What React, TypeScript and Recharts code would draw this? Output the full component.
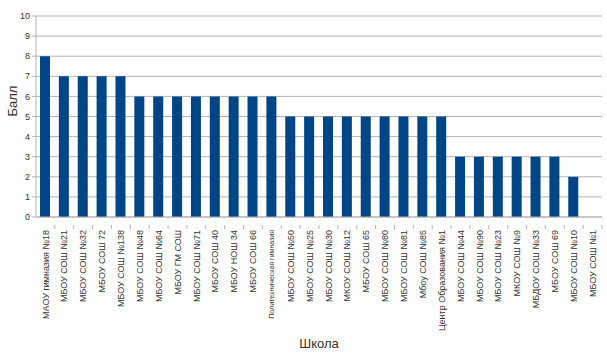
import React from 'react';
import { BarChart, Bar, XAxis, YAxis, CartesianGrid } from 'recharts';

const schools: string[] = [
  'МАОУ гимназия №18', 'МБОУ СОШ №21', 'МБОУ СОШ №32', 'МБОУ СОШ 72', 'МБОУ СОШ №138',
  'МБОУ СОШ №48', 'МБОУ СОШ №64', 'МБОУ ГМ СОШ', 'МБОУ СОШ №71', 'МБОУ СОШ 40',
  'МБОУ НОШ 34', 'МБОУ СОШ 66', 'Политехническая гимназия', 'МБОУ СОШ №50', 'МБОУ СОШ №25',
  'МБОУ СОШ №30', 'МКОУ СОШ №12', 'МБОУ СОШ 65', 'МБОУ СОШ №80', 'МБОУ СОШ №81',
  'Мбоу СОШ №85', 'Центр Образования №1', 'МБОУ СОШ №44', 'МБОУ СОШ №90', 'МБОУ СОШ №23',
  'МКОУ СОШ №9', 'МБДОУ СОШ №33', 'МБОУ СОШ 69', 'МБОУ СОШ №10', 'МБОУ СОШ №1',
];
const scores: number[] = [
  8, 7, 7, 7, 7,
  6, 6, 6, 6, 6,
  6, 6, 6, 5, 5,
  5, 5, 5, 5, 5,
  5, 5, 3, 3, 3,
  3, 3, 3, 2, 0,
];
const yTicks: number[] = [0, 1, 2, 3, 4, 5, 6, 7, 8, 9, 10];

const data = schools.map((name, i) => ({ name, score: scores[i] }));

const W = 607;
const H = 357;
const M = { top: 16, right: 5, left: 0, bottom: 0 };
const Y_W = 36;
const X_H = 140;
const BAND = (W - M.left - M.right - Y_W) / schools.length;
const FONT = '"Liberation Sans", Arial, sans-serif';
const GRID = '#b3b3b3';
const TEXT = '#333333';

const XTick = (props: any) => {
  const { x, y, payload } = props;
  const label: string = payload.value;
  const small = label.startsWith('Политех');
  return (
    <g>
      <line x1={x + BAND / 2} y1={y} x2={x + BAND / 2} y2={y + 4} stroke={GRID} />
      <text
        x={x}
        y={y + 5}
        transform={`rotate(-90, ${x}, ${y + 5})`}
        textAnchor="end"
        dy="0.35em"
        fontSize={small ? 7 : 9}
        fill={TEXT}
        fontFamily={FONT}
      >
        {label}
      </text>
    </g>
  );
};

export default function App() {
  return (
    <div style={{ position: 'absolute', left: 0, top: 0, width: W, height: H, background: '#fff' }}>
      <BarChart width={W} height={H} data={data} margin={M}>
        <CartesianGrid vertical={false} stroke={GRID} />
        <XAxis
          dataKey="name"
          interval={0}
          height={X_H}
          axisLine={{ stroke: GRID }}
          tickLine={false}
          tick={<XTick />}
          label={{ value: 'Школа', position: 'insideBottom', offset: 9, fontSize: 13, fill: TEXT, fontFamily: FONT }}
        />
        <YAxis
          width={Y_W}
          domain={[0, 10]}
          ticks={yTicks}
          interval={0}
          axisLine={{ stroke: GRID }}
          tickLine={{ stroke: GRID }}
          tickSize={4}
          tickMargin={2}
          tick={{ fontSize: 9, fill: TEXT, fontFamily: FONT }}
          label={{ value: 'Балл', angle: -90, position: 'insideLeft', offset: 0, dx: 12, fontSize: 13, fill: TEXT, fontFamily: FONT }}
        />
        <YAxis
          yAxisId="r"
          orientation="right"
          width={0}
          tick={false}
          tickLine={false}
          axisLine={{ stroke: GRID }}
        />
        <Bar dataKey="score" fill="#004586" barSize={10} isAnimationActive={false} />
      </BarChart>
    </div>
  );
}
